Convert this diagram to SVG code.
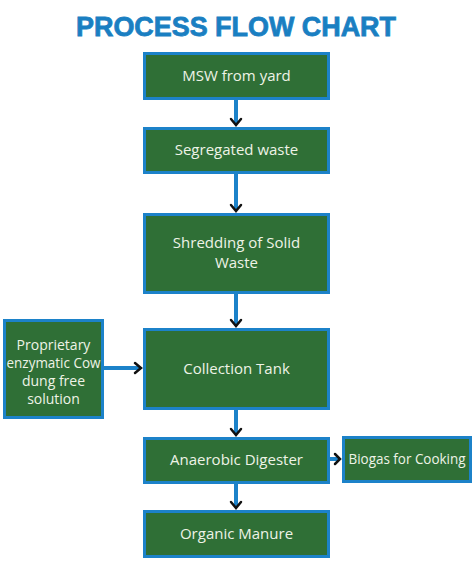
<svg xmlns="http://www.w3.org/2000/svg" width="474" height="568" viewBox="0 0 474 568">
<style>
.box{fill:#2f6f36;stroke:#1c82c9;stroke-width:3}
.t{font-family:"Open Sans","Liberation Sans",sans-serif;font-size:15px;fill:#eef3e6;text-anchor:middle}
.s{font-size:14px}
.c{stroke:#1c82c9;stroke-width:4;fill:none}
.ah{fill:none;stroke:#111;stroke-width:2.5;stroke-linecap:round;stroke-linejoin:miter}
.title{font-family:"Liberation Sans",Arial,sans-serif;font-weight:bold;font-size:27px;fill:#1a7fc2;text-anchor:middle;stroke:#1a7fc2;stroke-width:0.8}
</style>
<rect width="474" height="568" fill="#fff"/>
<text class="title" x="236" y="36" textLength="320" lengthAdjust="spacingAndGlyphs">PROCESS FLOW CHART</text>
<g id="connectors">
<line class="c" x1="236" y1="100" x2="236" y2="124"/><polyline class="ah" points="231,119 236,125 241,119"/>
<line class="c" x1="236" y1="174" x2="236" y2="210"/><polyline class="ah" points="231,205 236,211 241,205"/>
<line class="c" x1="236" y1="294" x2="236" y2="325"/><polyline class="ah" points="231,320 236,326 241,320"/>
<line class="c" x1="104" y1="368" x2="140" y2="368"/><polyline class="ah" points="135,363 141,368 135,373"/>
<line class="c" x1="236" y1="410" x2="236" y2="434"/><polyline class="ah" points="231,429 236,435 241,429"/>
<line class="c" x1="330" y1="459" x2="339" y2="459"/><polyline class="ah" points="335,454 340,459 335,464"/>
<line class="c" x1="236" y1="484" x2="236" y2="507"/><polyline class="ah" points="231,502 236,508 241,502"/>
</g>
<g id="msw"><rect class="box" x="144.5" y="53.5" width="184" height="45"/><text class="t" x="236.5" y="81">MSW from yard</text></g>
<g id="segregated"><rect class="box" x="144.5" y="128.5" width="184" height="44"/><text class="t" x="236.5" y="155">Segregated waste</text></g>
<g id="shredding"><rect class="box" x="144.5" y="214.5" width="184" height="78"/><text class="t" x="236.5" y="248">Shredding of Solid</text><text class="t" x="236.5" y="268">Waste</text></g>
<g id="solution"><rect class="box" x="4.5" y="320.5" width="98" height="97"/><text class="t s" x="53.5" y="350">Proprietary</text><text class="t s" x="53.5" y="368" textLength="94" lengthAdjust="spacingAndGlyphs">enzymatic Cow</text><text class="t s" x="53.5" y="386">dung free</text><text class="t s" x="53.5" y="404">solution</text></g>
<g id="collection"><rect class="box" x="144.5" y="329.5" width="184" height="79"/><text class="t" x="236.5" y="374">Collection Tank</text></g>
<g id="anaerobic"><rect class="box" x="144.5" y="438.5" width="184" height="44"/><text class="t" x="236.5" y="465">Anaerobic Digester</text></g>
<g id="biogas"><rect class="box" x="343.5" y="437.5" width="127" height="44"/><text class="t s" x="407" y="464" textLength="117" lengthAdjust="spacingAndGlyphs">Biogas for Cooking</text></g>
<g id="manure"><rect class="box" x="144.5" y="511.5" width="184" height="45"/><text class="t" x="236.5" y="539">Organic Manure</text></g>
</svg>
